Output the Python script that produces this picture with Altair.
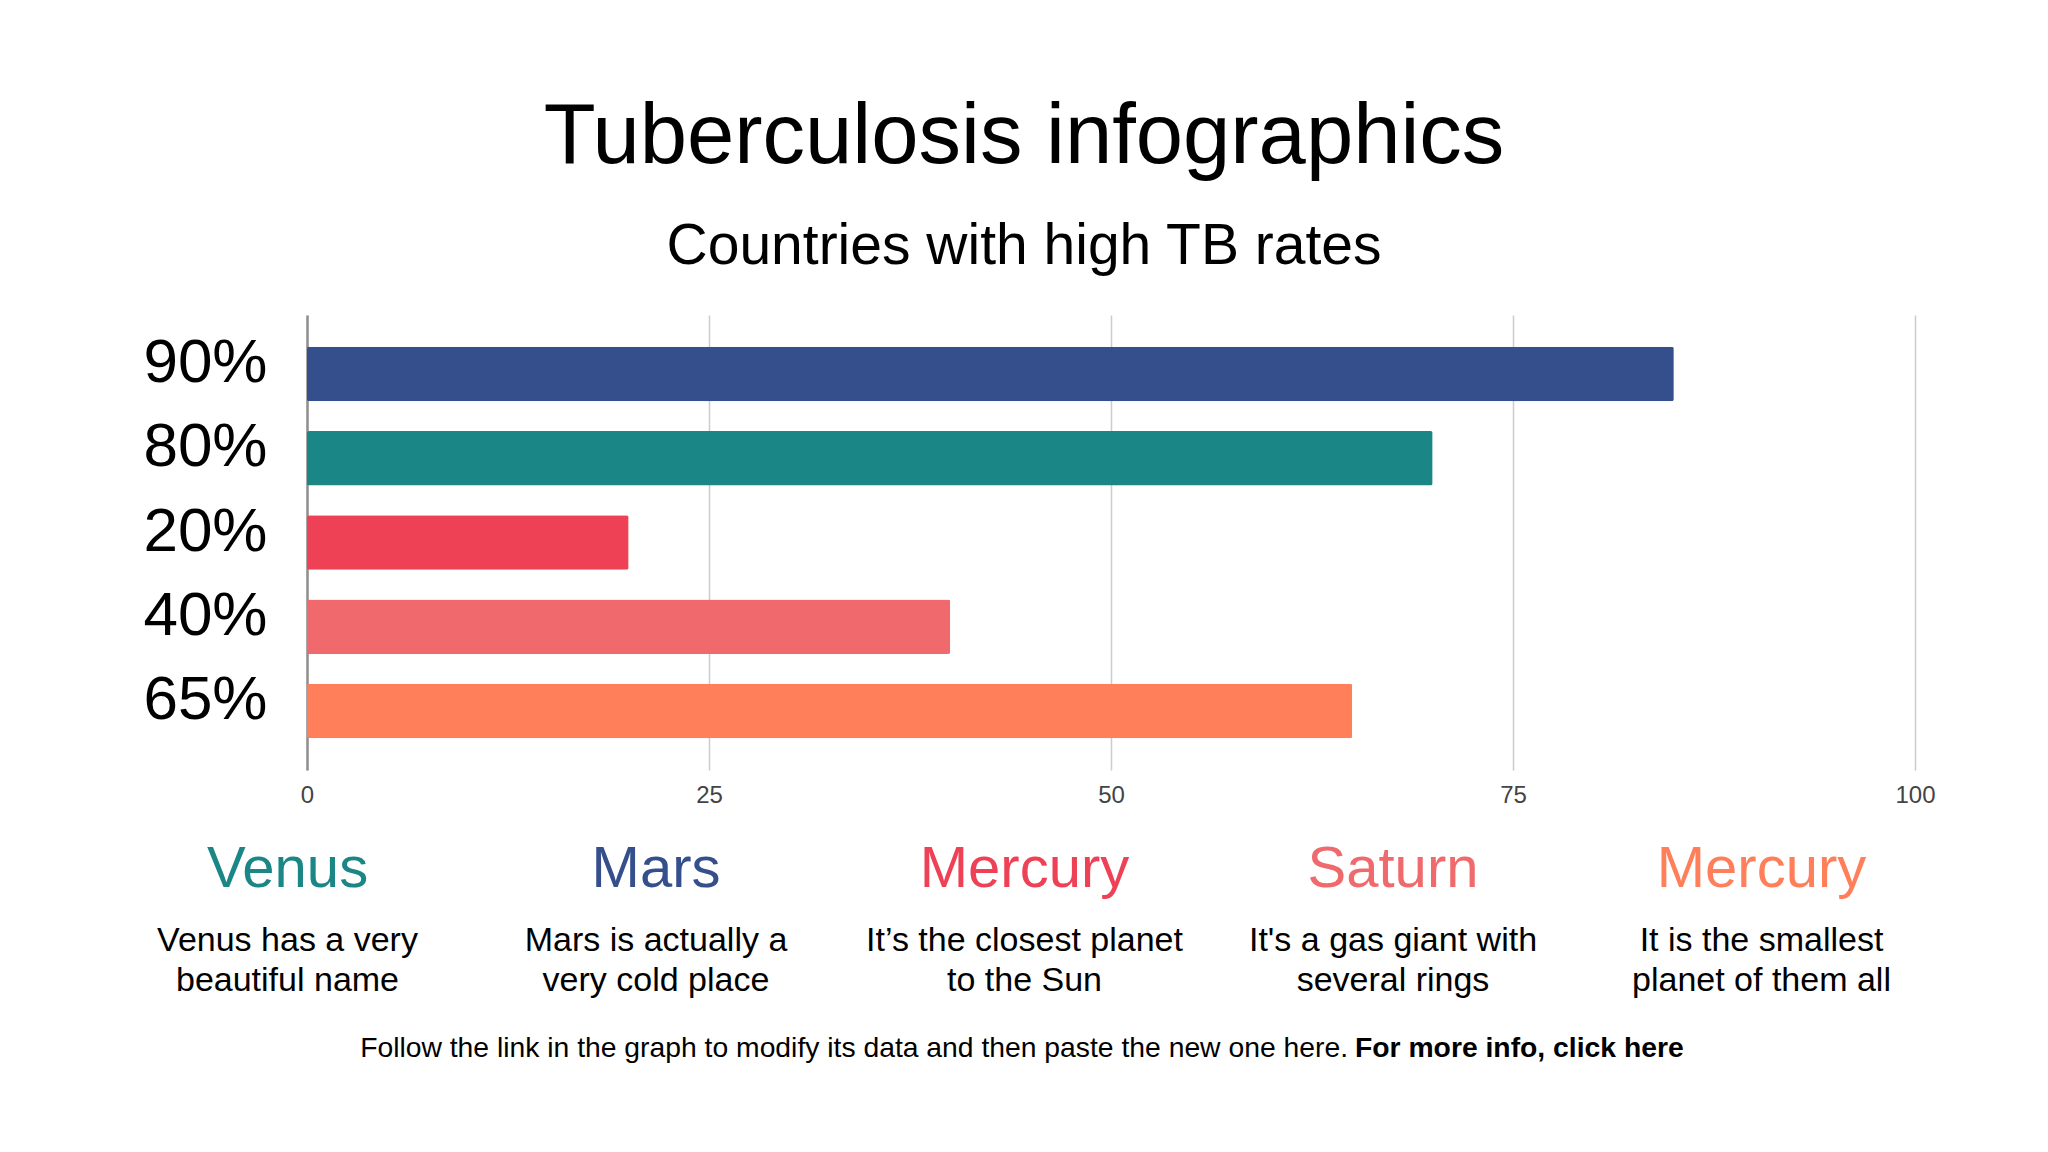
import altair as alt
import pandas as pd

# ---- data ----
categories = ["90%", "80%", "20%", "40%", "65%"]
values = [85, 70, 20, 40, 65]
bar_colors = ["#344f8c", "#1b8686", "#ef4155", "#ef696d", "#ff7f5a"]

planet_names = ["Venus", "Mars", "Mercury", "Saturn", "Mercury"]
planet_colors = ["#1b8686", "#344f8c", "#ef4155", "#ef696d", "#ff7f5a"]
planet_desc = [
    "Venus has a very\nbeautiful name",
    "Mars is actually a\nvery cold place",
    "It\u2019s the closest planet\nto the Sun",
    "It's a gas giant with\nseveral rings",
    "It is the smallest\nplanet of them all",
]

tick_values = [0, 25, 50, 75, 100]

title_text = "Tuberculosis infographics"
subtitle_text = "Countries with high TB rates"
footer_regular = "Follow the link in the graph to modify its data and then paste the new one here."
footer_bold = "For more info, click here"

FONT = "Liberation Sans"

bar_df = pd.DataFrame({"label": categories, "value": values, "color": bar_colors})
planet_df = pd.DataFrame({
    "slot": list(range(len(planet_names))),
    "name": planet_names,
    "color": planet_colors,
    "desc": planet_desc,
})
foot_reg_df = pd.DataFrame({"t": [footer_regular]})
foot_bold_df = pd.DataFrame({"t": [footer_bold]})

bars = alt.Chart(bar_df).mark_bar(cornerRadius=2).encode(
    x=alt.X(
        "value:Q",
        scale=alt.Scale(domain=[0, 100], nice=False),
        axis=alt.Axis(
            values=tick_values, title=None, grid=True, gridColor="#cccccc",
            gridWidth=1.5, domain=False, ticks=False, tickSize=0,
            labelFontSize=24, labelColor="#444444", labelPadding=13,
            labelFont=FONT, labelFlush=False,
        ),
    ),
    y=alt.Y(
        "label:N", sort=categories,
        scale=alt.Scale(paddingInner=0.353, paddingOuter=0.377),
        axis=alt.Axis(
            title=None, domain=True, domainColor="#8f8f8f", domainWidth=2.5,
            ticks=False, tickSize=0, labelFontSize=62, labelColor="#000000",
            labelPadding=40, labelOffset=-11, grid=False, labelFont=FONT,
        ),
    ),
    color=alt.Color("color:N", scale=None),
)

slot_x = alt.X(
    "slot:O",
    scale=alt.Scale(type="point", range=[-19.5, 1454.5], padding=0),
    axis=None,
)

names = alt.Chart(planet_df).mark_text(
    font=FONT, fontSize=58, align="center", baseline="alphabetic"
).encode(
    x=slot_x,
    y=alt.value(572),
    text="name:N",
    color=alt.Color("color:N", scale=None),
)

descs = alt.Chart(planet_df).mark_text(
    font=FONT, fontSize=34, align="center", baseline="alphabetic",
    lineBreak="\n", lineHeight=40, color="#000000",
).encode(
    x=slot_x,
    y=alt.value(636),
    text="desc:N",
)

foot1 = alt.Chart(foot_reg_df).mark_text(
    font=FONT, fontSize=28.3, align="right", baseline="alphabetic", color="#000000"
).encode(x=alt.value(1041), y=alt.value(742), text="t:N")

foot2 = alt.Chart(foot_bold_df).mark_text(
    font=FONT, fontSize=28.3, fontWeight="bold", align="left",
    baseline="alphabetic", color="#000000"
).encode(x=alt.value(1048), y=alt.value(742), text="t:N")

chart = alt.layer(bars, names, descs, foot1, foot2).resolve_scale(
    x="independent"
).properties(
    width=1608,
    height=455,
    autosize=alt.AutoSizeParams(type="none"),
    padding={"left": 307, "top": 315, "right": 133, "bottom": 382},
    title=alt.TitleParams(
        text=title_text,
        subtitle=subtitle_text,
        font=FONT,
        subtitleFont=FONT,
        fontSize=85,
        subtitleFontSize=57,
        fontWeight="normal",
        color="#000000",
        subtitleColor="#000000",
        anchor="middle",
        frame="group",
        dx=-87,
        offset=39,
        subtitlePadding=38,
    ),
).configure(background="#ffffff").configure_view(stroke=None)

chart.save("out.html", embed_options={"renderer": "svg", "actions": False})
